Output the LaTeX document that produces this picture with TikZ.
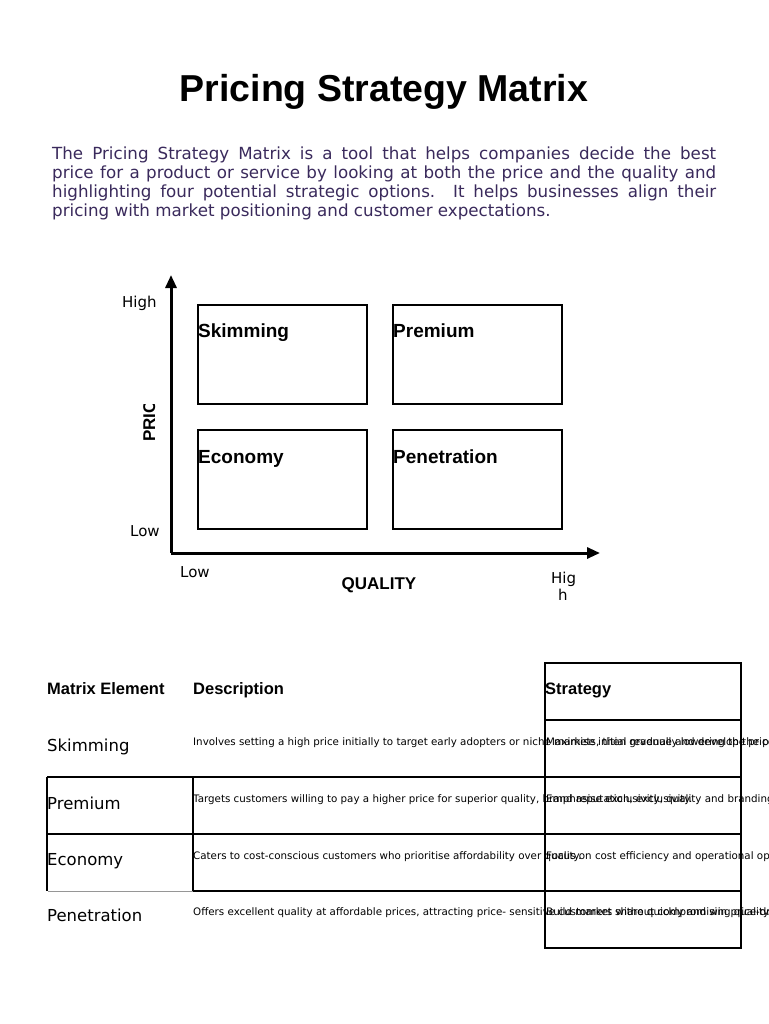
\documentclass[tikz,border=0pt]{standalone}
\usepackage{fontspec}
\setmainfont{DejaVu Sans}
\newfontfamily\arial{Liberation Sans}
\usetikzlibrary{arrows.meta}
\definecolor{paracol}{RGB}{58,42,92}
\definecolor{thingray}{RGB}{150,150,150}
\begin{document}
\begin{tikzpicture}[x=1pt,y=-1pt,
  quad/.style={draw, line width=2.7pt, minimum width=169pt, minimum height=99pt, anchor=north west, inner sep=0pt, outer sep=0pt},
  axis/.style={line width=3pt, -{Triangle[length=13pt,width=11pt]}},
  qlbl/.style={anchor=base west, inner sep=0pt, font=\arial\bfseries\fontsize{19}{22}\selectfont},
  tick/.style={anchor=base west, inner sep=0pt, font=\fontsize{15}{17}\selectfont},
  hdr/.style={anchor=base west, inner sep=0pt, font=\arial\bfseries\fontsize{16.5}{19}\selectfont},
  rowlbl/.style={anchor=base west, inner sep=0pt, font=\fontsize{16.5}{19}\selectfont},
  desc/.style={anchor=base west, inner sep=0pt, font=\fontsize{10.3}{12}\selectfont},
  tline/.style={line width=2.7pt},
  thin/.style={line width=1pt, draw=thingray}]
\useasboundingbox (0,0) rectangle (768,1024);
\clip (0,0) rectangle (768,1024);
\fill[white] (0,0) rectangle (768,1024);

% title
\node[anchor=base, inner sep=0pt, font=\arial\bfseries\fontsize{37.5}{40}\selectfont] (title) at (384,102) {Pricing Strategy Matrix};

% intro paragraph
\node[anchor=north west, inner sep=0pt, text width=664pt, align=justify, text=paracol,
      font=\fontsize{16.7}{18.8}\selectfont] (intro) at (52,147)
{The Pricing Strategy Matrix is a tool that helps companies decide the best\linebreak
price for a product or service by looking at both the price and the quality and\linebreak
highlighting four potential strategic options. It helps businesses align their\linebreak
pricing with market positioning and customer expectations.};

% axes
\coordinate (O) at (171,553);
\coordinate (ytip) at (171,275);
\coordinate (xtip) at (600,553);
\draw[axis] (O) -- (ytip);
\draw[axis] (O) -- (xtip);

% quadrants
\node[quad] (skim) at (198,305) {};
\node[quad] (prem) at (393,305) {};
\node[quad] (econ) at (198,430) {};
\node[quad] (pene) at (393,430) {};
\node[qlbl] (skimL) at (198,337) {Skimming};
\node[qlbl] (premL) at (393,337) {Premium};
\node[qlbl] (econL) at (198,463) {Economy};
\node[qlbl] (peneL) at (393,463) {Penetration};

% axis labels
\node[tick] (yhigh) at (122,307) {High};
\node[tick] (ylow) at (130,536) {Low};
\node[tick] (xlow) at (180,577) {Low};
\node[anchor=base, inner sep=0pt, font=\arial\bfseries\fontsize{17}{20}\selectfont] (qual) at (379,589) {QUALITY};
\node[tick] (xhigh1) at (551,583) {Hig};
\node[tick] (xhigh2) at (558,600) {h};
\begin{scope}
\clip (130,404) rectangle (160,445);
\node[anchor=base west, inner sep=0pt, rotate=90, font=\arial\bfseries\fontsize{17}{20}\selectfont] (pric) at (155,442) {PRIC};
\end{scope}

% table headers
\node[hdr] (h1) at (47,694) {Matrix Element};
\node[hdr] (h2) at (193,694) {Description};
\node[hdr] (h3) at (545,694) {Strategy};

% row labels
\node[rowlbl] (r1) at (47,751) {Skimming};
\node[rowlbl] (r2) at (47,809) {Premium};
\node[rowlbl] (r3) at (47,865) {Economy};
\node[rowlbl] (r4) at (47,921) {Penetration};

% descriptions
\node[desc] (d1) at (193,745) {Involves setting a high price initially to target early adopters or niche markets, then gradually lowering the price.};
\node[desc] (d2) at (193,802) {Targets customers willing to pay a higher price for superior quality, brand reputation, exclusivity.};
\node[desc] (d3) at (193,859) {Caters to cost-conscious customers who prioritise affordability over quality.};
\node[desc] (d4) at (193,915) {Offers excellent quality at affordable prices, attracting price- sensitive customers without compromising quality.};

% strategies
\node[desc] (s1) at (546,745) {Maximise initial revenue and develop the product image.};
\node[desc] (s2) at (546,802) {Emphasise exclusivity, quality and branding.};
\node[desc] (s3) at (546,859) {Focus on cost efficiency and operational optimisation.};
\node[desc] (s4) at (546,915) {Build market share quickly and win price-driven buyers.};

% strategy column grid
\draw[tline] (545,663) rectangle (741,948);
\foreach \yy in {720,777,834,891} \draw[tline] (545,\yy) -- (741,\yy);
% premium / economy rows
\draw[tline] (47,777) -- (545,777);
\draw[tline] (47,834) -- (545,834);
\draw[tline] (193,891) -- (545,891);
\draw[tline] (47,777) -- (47,891);
\draw[tline] (193,777) -- (193,891);
\draw[thin] (48,891) -- (193,891);
\end{tikzpicture}
\end{document}
